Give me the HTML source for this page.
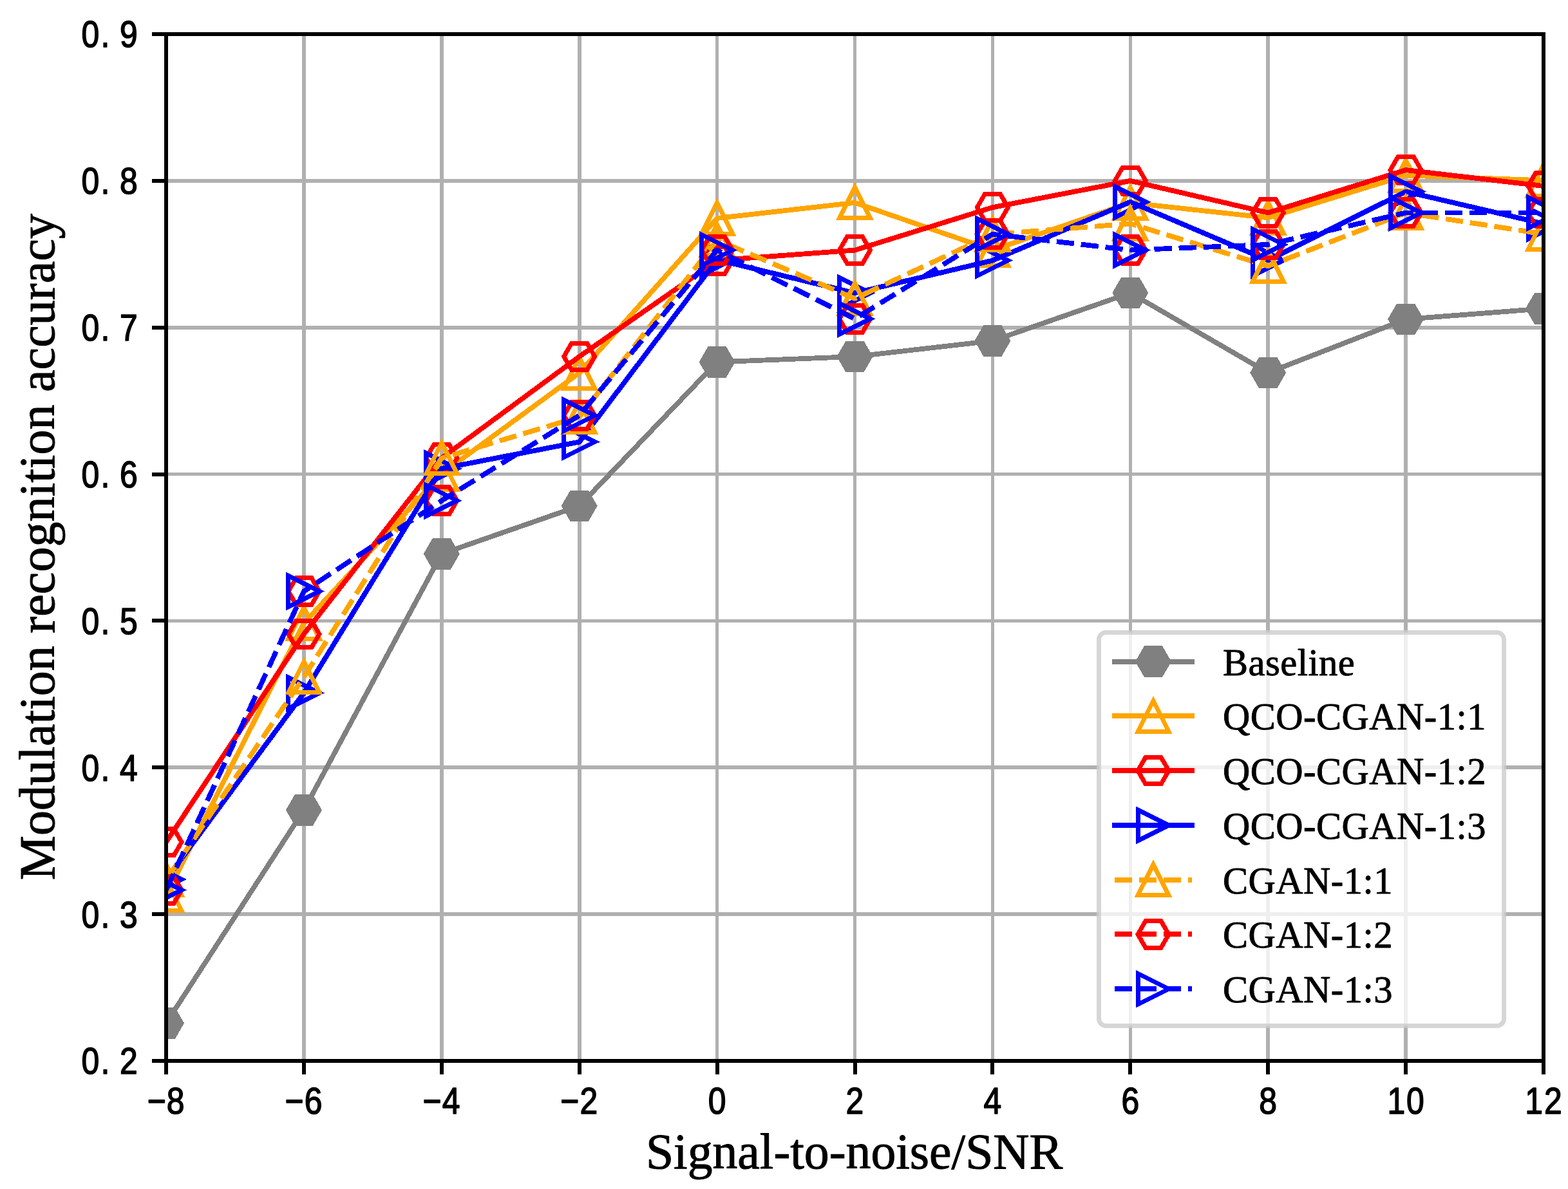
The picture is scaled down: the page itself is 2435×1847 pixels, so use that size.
<!DOCTYPE html>
<html lang="en"><head><meta charset="utf-8"><title>Modulation recognition accuracy vs SNR</title>
<style>
html,body{margin:0;padding:0;background:#fff;}
body{width:2435px;height:1847px;overflow:hidden;}
svg{display:block;}
.tick{font-family:"Liberation Sans","DejaVu Sans",sans-serif;font-size:58px;fill:#000;stroke:#000;stroke-width:1.6px;stroke-linejoin:round;}
.lab{font-family:"Liberation Serif","DejaVu Serif",serif;fill:#000;stroke:#000;stroke-width:1px;stroke-linejoin:round;}
.leg{font-family:"Liberation Serif","DejaVu Serif",serif;fill:#000;stroke:#000;stroke-width:0.9px;stroke-linejoin:round;letter-spacing:0.44px;}
</style></head><body>
<svg width="2435" height="1847" viewBox="0 0 2435 1847" role="img" aria-label="Modulation recognition accuracy versus signal-to-noise ratio">
<rect width="2435" height="1847" fill="#fff"/>
<g stroke="#b0b0b0" stroke-width="5.6" fill="none" shape-rendering="crispEdges">
<line x1="258" y1="53" x2="258" y2="1648"/>
<line x1="471.9" y1="53" x2="471.9" y2="1648"/>
<line x1="685.8" y1="53" x2="685.8" y2="1648"/>
<line x1="899.7" y1="53" x2="899.7" y2="1648"/>
<line x1="1113.6" y1="53" x2="1113.6" y2="1648"/>
<line x1="1327.5" y1="53" x2="1327.5" y2="1648"/>
<line x1="1541.4" y1="53" x2="1541.4" y2="1648"/>
<line x1="1755.3" y1="53" x2="1755.3" y2="1648"/>
<line x1="1969.2" y1="53" x2="1969.2" y2="1648"/>
<line x1="2183.1" y1="53" x2="2183.1" y2="1648"/>
<line x1="2397" y1="53" x2="2397" y2="1648"/>
<line x1="258" y1="1648" x2="2397" y2="1648"/>
<line x1="258" y1="1420.14" x2="2397" y2="1420.14"/>
<line x1="258" y1="1192.29" x2="2397" y2="1192.29"/>
<line x1="258" y1="964.43" x2="2397" y2="964.43"/>
<line x1="258" y1="736.57" x2="2397" y2="736.57"/>
<line x1="258" y1="508.71" x2="2397" y2="508.71"/>
<line x1="258" y1="280.86" x2="2397" y2="280.86"/>
<line x1="258" y1="53" x2="2397" y2="53"/>
</g>
<svg x="258" y="53" width="2139" height="1595" viewBox="258 53 2139 1595" overflow="hidden"><g fill="none" shape-rendering="crispEdges">
<polyline points="258,1589.4 471.9,1258.3 685.8,860.4 899.7,785.9 1113.6,562.4 1327.5,553.95 1541.4,529.5 1755.3,455 1969.2,578.95 2183.1,495.9 2397,479.4" stroke="#808080" stroke-width="7.8" stroke-linejoin="round" stroke-linecap="square"/>
<path d="M282 1589.4L270 1610.18L246 1610.18L234 1589.4L246 1568.62L270 1568.62ZM495.9 1258.3L483.9 1279.08L459.9 1279.08L447.9 1258.3L459.9 1237.52L483.9 1237.52ZM709.8 860.4L697.8 881.18L673.8 881.18L661.8 860.4L673.8 839.62L697.8 839.62ZM923.7 785.9L911.7 806.68L887.7 806.68L875.7 785.9L887.7 765.12L911.7 765.12ZM1137.6 562.4L1125.6 583.18L1101.6 583.18L1089.6 562.4L1101.6 541.62L1125.6 541.62ZM1351.5 553.95L1339.5 574.73L1315.5 574.73L1303.5 553.95L1315.5 533.17L1339.5 533.17ZM1565.4 529.5L1553.4 550.28L1529.4 550.28L1517.4 529.5L1529.4 508.72L1553.4 508.72ZM1779.3 455L1767.3 475.78L1743.3 475.78L1731.3 455L1743.3 434.22L1767.3 434.22ZM1993.2 578.95L1981.2 599.73L1957.2 599.73L1945.2 578.95L1957.2 558.17L1981.2 558.17ZM2207.1 495.9L2195.1 516.68L2171.1 516.68L2159.1 495.9L2171.1 475.12L2195.1 475.12ZM2421 479.4L2409 500.18L2385 500.18L2373 479.4L2385 458.62L2409 458.62Z" stroke="#808080" stroke-width="7" stroke-linejoin="miter" stroke-miterlimit="10" fill="#808080"/>
<polyline points="258,1390.5 471.9,968.1 685.8,736 899.7,579.25 1113.6,339 1327.5,314.8 1541.4,388.6 1755.3,315 1969.2,338.3 2183.1,272.5 2397,280.3" stroke="#ffa500" stroke-width="7.8" stroke-linejoin="round" stroke-linecap="square"/>
<path d="M258 1366.5L234 1414.5L282 1414.5ZM471.9 944.1L447.9 992.1L495.9 992.1ZM685.8 712L661.8 760L709.8 760ZM899.7 555.25L875.7 603.25L923.7 603.25ZM1113.6 315L1089.6 363L1137.6 363ZM1327.5 290.8L1303.5 338.8L1351.5 338.8ZM1541.4 364.6L1517.4 412.6L1565.4 412.6ZM1755.3 291L1731.3 339L1779.3 339ZM1969.2 314.3L1945.2 362.3L1993.2 362.3ZM2183.1 248.5L2159.1 296.5L2207.1 296.5ZM2397 256.3L2373 304.3L2421 304.3Z" stroke="#ffa500" stroke-width="7" stroke-linejoin="miter" stroke-miterlimit="10" fill="none"/>
<polyline points="258,1308.1 471.9,985 685.8,711.6 899.7,553.9 1113.6,404.4 1327.5,388.6 1541.4,322.2 1755.3,280.9 1969.2,330.5 2183.1,264.07 2397,289" stroke="#ff0000" stroke-width="7.8" stroke-linejoin="round" stroke-linecap="square"/>
<path d="M282 1308.1L270 1328.88L246 1328.88L234 1308.1L246 1287.32L270 1287.32ZM495.9 985L483.9 1005.78L459.9 1005.78L447.9 985L459.9 964.22L483.9 964.22ZM709.8 711.6L697.8 732.38L673.8 732.38L661.8 711.6L673.8 690.82L697.8 690.82ZM923.7 553.9L911.7 574.68L887.7 574.68L875.7 553.9L887.7 533.12L911.7 533.12ZM1137.6 404.4L1125.6 425.18L1101.6 425.18L1089.6 404.4L1101.6 383.62L1125.6 383.62ZM1351.5 388.6L1339.5 409.38L1315.5 409.38L1303.5 388.6L1315.5 367.82L1339.5 367.82ZM1565.4 322.2L1553.4 342.98L1529.4 342.98L1517.4 322.2L1529.4 301.42L1553.4 301.42ZM1779.3 280.9L1767.3 301.68L1743.3 301.68L1731.3 280.9L1743.3 260.12L1767.3 260.12ZM1993.2 330.5L1981.2 351.28L1957.2 351.28L1945.2 330.5L1957.2 309.72L1981.2 309.72ZM2207.1 264.07L2195.1 284.85L2171.1 284.85L2159.1 264.07L2171.1 243.29L2195.1 243.29ZM2421 289L2409 309.78L2385 309.78L2373 289L2385 268.22L2409 268.22Z" stroke="#ff0000" stroke-width="7" stroke-linejoin="miter" stroke-miterlimit="10" fill="none"/>
<polyline points="258,1366.1 471.9,1076.5 685.8,728 899.7,686.5 1113.6,403.5 1327.5,455.2 1541.4,404.6 1755.3,313.7 1969.2,404.4 2183.1,297.6 2397,347.5" stroke="#0000ff" stroke-width="7.8" stroke-linejoin="round" stroke-linecap="square"/>
<path d="M282 1366.1L234 1342.1L234 1390.1ZM495.9 1076.5L447.9 1052.5L447.9 1100.5ZM709.8 728L661.8 704L661.8 752ZM923.7 686.5L875.7 662.5L875.7 710.5ZM1137.6 403.5L1089.6 379.5L1089.6 427.5ZM1351.5 455.2L1303.5 431.2L1303.5 479.2ZM1565.4 404.6L1517.4 380.6L1517.4 428.6ZM1779.3 313.7L1731.3 289.7L1731.3 337.7ZM1993.2 404.4L1945.2 380.4L1945.2 428.4ZM2207.1 297.6L2159.1 273.6L2159.1 321.6ZM2421 347.5L2373 323.5L2373 371.5Z" stroke="#0000ff" stroke-width="7" stroke-linejoin="miter" stroke-miterlimit="10" fill="none"/>
<polyline points="258,1366.6 471.9,1051.8 685.8,711.8 899.7,647.6 1113.6,372.8 1327.5,463.7 1541.4,364 1755.3,347.4 1969.2,413.3 2183.1,330.6 2397,363.4" stroke="#ffa500" stroke-width="7.8" stroke-linejoin="round" stroke-linecap="butt" stroke-dasharray="27.2 10.9"/>
<path d="M258 1342.6L234 1390.6L282 1390.6ZM471.9 1027.8L447.9 1075.8L495.9 1075.8ZM685.8 687.8L661.8 735.8L709.8 735.8ZM899.7 623.6L875.7 671.6L923.7 671.6ZM1113.6 348.8L1089.6 396.8L1137.6 396.8ZM1327.5 439.7L1303.5 487.7L1351.5 487.7ZM1541.4 340L1517.4 388L1565.4 388ZM1755.3 323.4L1731.3 371.4L1779.3 371.4ZM1969.2 389.3L1945.2 437.3L1993.2 437.3ZM2183.1 306.6L2159.1 354.6L2207.1 354.6ZM2397 339.4L2373 387.4L2421 387.4Z" stroke="#ffa500" stroke-width="7" stroke-linejoin="miter" stroke-miterlimit="10" fill="none"/>
<polyline points="258,1382.5 471.9,918.55 685.8,777.7 899.7,645.35 1113.6,388.5 1327.5,495.3 1541.4,363.75 1755.3,388.5 1969.2,379.9 2183.1,330.5 2397,330.6" stroke="#ff0000" stroke-width="7.8" stroke-linejoin="round" stroke-linecap="butt" stroke-dasharray="27.2 10.9"/>
<path d="M282 1382.5L270 1403.28L246 1403.28L234 1382.5L246 1361.72L270 1361.72ZM495.9 918.55L483.9 939.33L459.9 939.33L447.9 918.55L459.9 897.77L483.9 897.77ZM709.8 777.7L697.8 798.48L673.8 798.48L661.8 777.7L673.8 756.92L697.8 756.92ZM923.7 645.35L911.7 666.13L887.7 666.13L875.7 645.35L887.7 624.57L911.7 624.57ZM1137.6 388.5L1125.6 409.28L1101.6 409.28L1089.6 388.5L1101.6 367.72L1125.6 367.72ZM1351.5 495.3L1339.5 516.08L1315.5 516.08L1303.5 495.3L1315.5 474.52L1339.5 474.52ZM1565.4 363.75L1553.4 384.53L1529.4 384.53L1517.4 363.75L1529.4 342.97L1553.4 342.97ZM1779.3 388.5L1767.3 409.28L1743.3 409.28L1731.3 388.5L1743.3 367.72L1767.3 367.72ZM1993.2 379.9L1981.2 400.68L1957.2 400.68L1945.2 379.9L1957.2 359.12L1981.2 359.12ZM2207.1 330.5L2195.1 351.28L2171.1 351.28L2159.1 330.5L2171.1 309.72L2195.1 309.72ZM2421 330.6L2409 351.38L2385 351.38L2373 330.6L2385 309.82L2409 309.82Z" stroke="#ff0000" stroke-width="7" stroke-linejoin="miter" stroke-miterlimit="10" fill="none"/>
<polyline points="258,1382.5 471.9,918.55 685.8,777.7 899.7,645.35 1113.6,388.5 1327.5,495.3 1541.4,363.75 1755.3,388.5 1969.2,379.9 2183.1,330.5 2397,330.6" stroke="#0000ff" stroke-width="7.8" stroke-linejoin="round" stroke-linecap="butt" stroke-dasharray="27.2 10.9"/>
<path d="M282 1382.5L234 1358.5L234 1406.5ZM495.9 918.55L447.9 894.55L447.9 942.55ZM709.8 777.7L661.8 753.7L661.8 801.7ZM923.7 645.35L875.7 621.35L875.7 669.35ZM1137.6 388.5L1089.6 364.5L1089.6 412.5ZM1351.5 495.3L1303.5 471.3L1303.5 519.3ZM1565.4 363.75L1517.4 339.75L1517.4 387.75ZM1779.3 388.5L1731.3 364.5L1731.3 412.5ZM1993.2 379.9L1945.2 355.9L1945.2 403.9ZM2207.1 330.5L2159.1 306.5L2159.1 354.5ZM2421 330.6L2373 306.6L2373 354.6Z" stroke="#0000ff" stroke-width="7" stroke-linejoin="miter" stroke-miterlimit="10" fill="none"/>
</g></svg>
<g stroke="#000" stroke-width="6" fill="none" shape-rendering="crispEdges">
<line x1="258" y1="1648" x2="258" y2="1669"/>
<line x1="471.9" y1="1648" x2="471.9" y2="1669"/>
<line x1="685.8" y1="1648" x2="685.8" y2="1669"/>
<line x1="899.7" y1="1648" x2="899.7" y2="1669"/>
<line x1="1113.6" y1="1648" x2="1113.6" y2="1669"/>
<line x1="1327.5" y1="1648" x2="1327.5" y2="1669"/>
<line x1="1541.4" y1="1648" x2="1541.4" y2="1669"/>
<line x1="1755.3" y1="1648" x2="1755.3" y2="1669"/>
<line x1="1969.2" y1="1648" x2="1969.2" y2="1669"/>
<line x1="2183.1" y1="1648" x2="2183.1" y2="1669"/>
<line x1="2397" y1="1648" x2="2397" y2="1669"/>
<line x1="258" y1="1648" x2="236" y2="1648"/>
<line x1="258" y1="1420.14" x2="236" y2="1420.14"/>
<line x1="258" y1="1192.29" x2="236" y2="1192.29"/>
<line x1="258" y1="964.43" x2="236" y2="964.43"/>
<line x1="258" y1="736.57" x2="236" y2="736.57"/>
<line x1="258" y1="508.71" x2="236" y2="508.71"/>
<line x1="258" y1="280.86" x2="236" y2="280.86"/>
<line x1="258" y1="53" x2="236" y2="53"/>
<rect x="258" y="53" width="2139" height="1595"/>
</g>
<g>
<text class="tick" text-anchor="middle" transform="translate(0 1730.2) scale(0.86 1)" x="282.85 317.15" y="0">−8</text>
<text class="tick" text-anchor="middle" transform="translate(0 1730.2) scale(0.86 1)" x="531.57 565.87" y="0">−6</text>
<text class="tick" text-anchor="middle" transform="translate(0 1730.2) scale(0.86 1)" x="780.29 814.59" y="0">−4</text>
<text class="tick" text-anchor="middle" transform="translate(0 1730.2) scale(0.86 1)" x="1029.01 1063.31" y="0">−2</text>
<text class="tick" text-anchor="middle" transform="translate(0 1730.2) scale(0.86 1)" x="1294.88" y="0">0</text>
<text class="tick" text-anchor="middle" transform="translate(0 1730.2) scale(0.86 1)" x="1543.6" y="0">2</text>
<text class="tick" text-anchor="middle" transform="translate(0 1730.2) scale(0.86 1)" x="1792.33" y="0">4</text>
<text class="tick" text-anchor="middle" transform="translate(0 1730.2) scale(0.86 1)" x="2041.05" y="0">6</text>
<text class="tick" text-anchor="middle" transform="translate(0 1730.2) scale(0.86 1)" x="2289.77" y="0">8</text>
<text class="tick" text-anchor="middle" transform="translate(0 1730.2) scale(0.86 1)" x="2521.34 2555.64" y="0">10</text>
<text class="tick" text-anchor="middle" transform="translate(0 1730.2) scale(0.86 1)" x="2770.06 2804.36" y="0">12</text>
<text class="tick" text-anchor="middle" transform="translate(0 1668.4) scale(0.86 1)" x="163.37 190.12 232.56" y="0">0.2</text>
<text class="tick" text-anchor="middle" transform="translate(0 1440.54) scale(0.86 1)" x="163.37 190.12 232.56" y="0">0.3</text>
<text class="tick" text-anchor="middle" transform="translate(0 1212.69) scale(0.86 1)" x="163.37 190.12 232.56" y="0">0.4</text>
<text class="tick" text-anchor="middle" transform="translate(0 984.83) scale(0.86 1)" x="163.37 190.12 232.56" y="0">0.5</text>
<text class="tick" text-anchor="middle" transform="translate(0 756.97) scale(0.86 1)" x="163.37 190.12 232.56" y="0">0.6</text>
<text class="tick" text-anchor="middle" transform="translate(0 529.11) scale(0.86 1)" x="163.37 190.12 232.56" y="0">0.7</text>
<text class="tick" text-anchor="middle" transform="translate(0 301.26) scale(0.86 1)" x="163.37 190.12 232.56" y="0">0.8</text>
<text class="tick" text-anchor="middle" transform="translate(0 73.4) scale(0.86 1)" x="163.37 190.12 232.56" y="0">0.9</text>
</g>
<text class="lab" font-size="77.7" text-anchor="middle" x="1326.6" y="1814.6">Signal-to-noise/SNR</text>
<text class="lab" font-size="78" text-anchor="middle" transform="translate(84.1 849.6) rotate(-90)">Modulation recognition accuracy</text>
<g>
<rect x="1706.5" y="982.5" width="629.1" height="611.05" rx="11" ry="11" fill="#fff" fill-opacity="0.8" stroke="#cccccc" stroke-opacity="0.8" stroke-width="7"/>
<g fill="none" shape-rendering="crispEdges">
<line x1="1727" y1="1028" x2="1855" y2="1028" stroke="#808080" stroke-width="8" stroke-linecap="butt"/>
<path d="M1815 1027.7L1803 1048.48L1779 1048.48L1767 1027.7L1779 1006.92L1803 1006.92Z" stroke="#808080" stroke-width="7" stroke-linejoin="miter" stroke-miterlimit="10" fill="#808080"/>
<line x1="1727" y1="1112" x2="1855" y2="1112" stroke="#ffa500" stroke-width="8" stroke-linecap="butt"/>
<path d="M1791 1088.45L1767 1136.45L1815 1136.45Z" stroke="#ffa500" stroke-width="7" stroke-linejoin="miter" stroke-miterlimit="10" fill="none"/>
<line x1="1727" y1="1197" x2="1855" y2="1197" stroke="#ff0000" stroke-width="8" stroke-linecap="butt"/>
<path d="M1815 1197.2L1803 1217.98L1779 1217.98L1767 1197.2L1779 1176.42L1803 1176.42Z" stroke="#ff0000" stroke-width="7" stroke-linejoin="miter" stroke-miterlimit="10" fill="none"/>
<line x1="1727" y1="1282" x2="1855" y2="1282" stroke="#0000ff" stroke-width="8" stroke-linecap="butt"/>
<path d="M1815 1281.95L1767 1257.95L1767 1305.95Z" stroke="#0000ff" stroke-width="7" stroke-linejoin="miter" stroke-miterlimit="10" fill="none"/>
<line x1="1730.6" y1="1367" x2="1851.4" y2="1367" stroke="#ffa500" stroke-width="8" stroke-dasharray="27.2 10.9"/>
<path d="M1791 1342.7L1767 1390.7L1815 1390.7Z" stroke="#ffa500" stroke-width="7" stroke-linejoin="miter" stroke-miterlimit="10" fill="none"/>
<line x1="1730.6" y1="1451" x2="1851.4" y2="1451" stroke="#ff0000" stroke-width="8" stroke-dasharray="27.2 10.9"/>
<path d="M1815 1451.45L1803 1472.23L1779 1472.23L1767 1451.45L1779 1430.67L1803 1430.67Z" stroke="#ff0000" stroke-width="7" stroke-linejoin="miter" stroke-miterlimit="10" fill="none"/>
<line x1="1730.6" y1="1536" x2="1851.4" y2="1536" stroke="#0000ff" stroke-width="8" stroke-dasharray="27.2 10.9"/>
<path d="M1815 1536.2L1767 1512.2L1767 1560.2Z" stroke="#0000ff" stroke-width="7" stroke-linejoin="miter" stroke-miterlimit="10" fill="none"/>
</g>
<text class="leg" font-size="58.6" x="1899" y="1048.7">Baseline</text>
<text class="leg" font-size="58.6" x="1899" y="1133.45">QCO-CGAN-1:1</text>
<text class="leg" font-size="58.6" x="1899" y="1218.2">QCO-CGAN-1:2</text>
<text class="leg" font-size="58.6" x="1899" y="1302.95">QCO-CGAN-1:3</text>
<text class="leg" font-size="58.6" x="1899" y="1387.7">CGAN-1:1</text>
<text class="leg" font-size="58.6" x="1899" y="1472.45">CGAN-1:2</text>
<text class="leg" font-size="58.6" x="1899" y="1557.2">CGAN-1:3</text>
</g>
</svg></body></html>
